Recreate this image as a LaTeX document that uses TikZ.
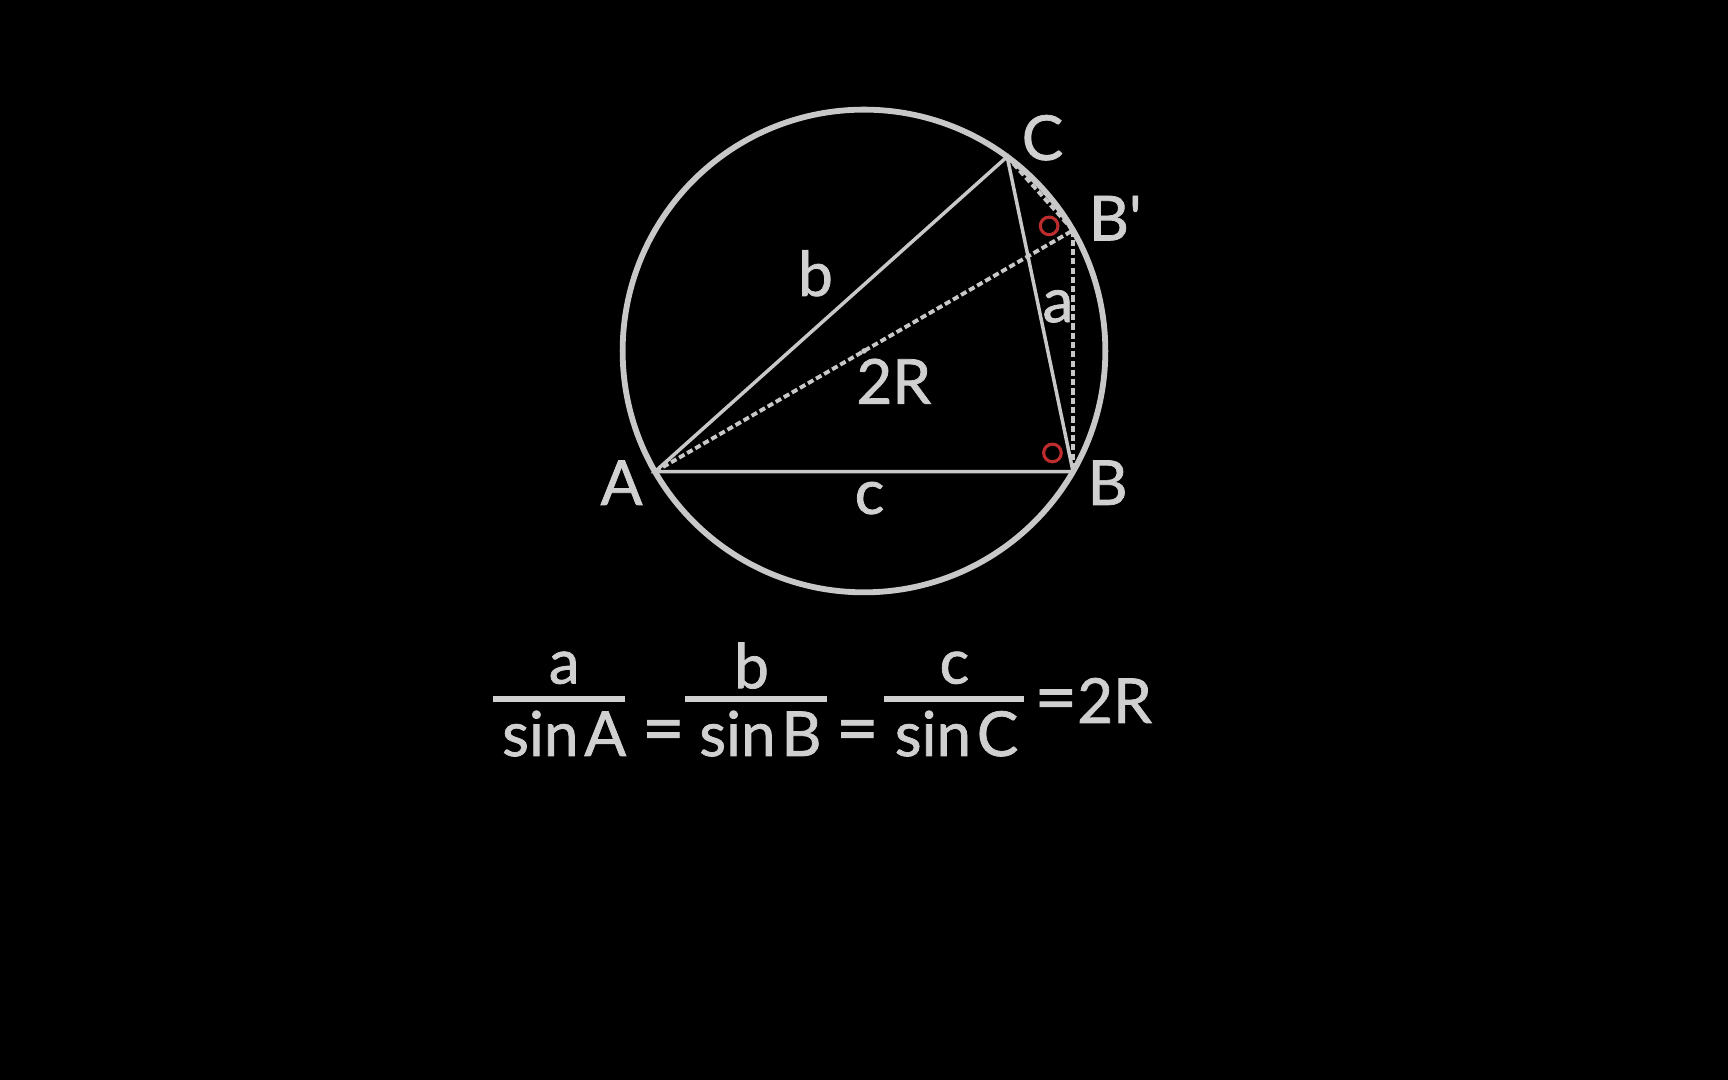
\documentclass[tikz,border=0pt]{standalone}
\usepackage{fontspec}
\setmainfont{Lato}
\newfontfamily\lblfont{Lato}[FakeBold=1.2]
\begin{document}
\begin{tikzpicture}[x=0.01cm,y=-0.01cm,
  lbl/.style={text=txt,inner sep=0pt,font=\lblfont\fontsize{16}{19}\selectfont},
  eqs/.style={text=txt,inner sep=0pt,font=\lblfont\fontsize{19}{22}\selectfont},
  solidline/.style={draw=gry,line width=0.9pt},
  dashline/.style={draw=gry,line width=1pt,dash pattern=on 1.6pt off 0.8pt},
  mark90/.style={draw=redm,line width=0.8pt},
  fbar/.style={draw=txt,line width=1.5pt}]
\definecolor{gry}{RGB}{200,200,200}
\definecolor{txt}{RGB}{208,208,208}
\definecolor{redm}{RGB}{190,45,45}
\fill[black] (0,0) rectangle (1568,980);
\useasboundingbox (0,0) rectangle (1568,980);
% points
\coordinate (O) at (784,318.5);
\coordinate (A) at (594.3,428);
\coordinate (B) at (973.7,428);
\coordinate (Bp) at (973.7,209);
\coordinate (C) at (913.9,142.2);
% circle
\draw[gry,line width=1.5pt] (O) circle[radius=219];
% dashed
\draw[dashline] (A) -- (Bp);
\draw[dashline] (Bp) -- (B);
\draw[dashline] (C) -- (Bp);
\fill[gry] (O) circle[radius=2.5];
% solid triangle
\draw[solidline] (A) -- (B) -- (C) -- cycle;
% right angle marks
\draw[mark90] (952,205) circle[radius=8];
\draw[mark90] (955,411) circle[radius=8];
% labels
\node[lbl] (lC) at (946,125) {C};
\node[lbl] (lBp) at (1012,198) {B\textquotesingle};
\node[lbl] (lb) at (740,248) {b};
\node[lbl] (la) at (960,278) {a};
\node[lbl] (l2R) at (811,346) {2R};
\node[lbl] (lA) at (564,438) {A};
\node[lbl] (lB) at (1005,438) {B};
\node[lbl] (lc) at (789,452) {c};
% formula
\node[lbl] (na) at (512,606) {a};
\node[lbl] (nb) at (682,604) {b};
\node[lbl] (nc) at (866,606) {c};
\draw[fbar] (447,634) -- (567,634);
\draw[fbar] (622,634) -- (750,634);
\draw[fbar] (802,634) -- (929,634);
\node[lbl,anchor=base] (dA) at (512,686) {sin\kern1.5ptA};
\node[lbl,anchor=base] (dB) at (690,686) {sin\kern1.5ptB};
\node[lbl,anchor=base] (dC) at (868,686) {sin\kern1.5ptC};
\node[eqs,anchor=base] (e1) at (602,684) {=};
\node[eqs,anchor=base] (e2) at (778,684) {=};
\node[lbl,anchor=base] (e3) at (992,656) {\fontsize{19}{22}\selectfont=\fontsize{16}{19}\selectfont 2R};
\end{tikzpicture}
\end{document}
